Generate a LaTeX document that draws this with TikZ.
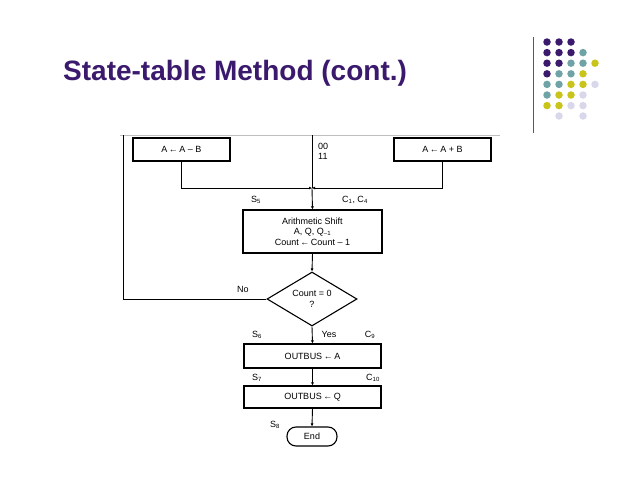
\documentclass[tikz,border=0pt]{standalone}
\usepackage{fontspec}
\setmainfont{Liberation Sans}
\usetikzlibrary{shapes.geometric,arrows.meta}
\definecolor{pp}{HTML}{3B1A6E}
\definecolor{tl}{HTML}{6FA3A6}
\definecolor{yl}{HTML}{C9C41A}
\definecolor{lv}{HTML}{D8D8EA}
\newcommand{\lar}{\,\textbf{←}\,}
\newcommand{\sbs}[1]{\textsubscript{#1}}
\begin{document}
\begin{tikzpicture}[x=1pt,y=-1pt,
  bx/.style={draw,line width=1.1pt,inner sep=0pt,font=\fontsize{9}{10.5}\selectfont,align=center},
  lb/.style={font=\fontsize{9}{10}\selectfont,inner sep=0pt},
  ln/.style={line width=0.9pt},
  ar/.style={ln,-{Latex[length=3pt,width=3pt]}},
  dot/.style={circle,inner sep=0pt,minimum size=7.5pt}]
\useasboundingbox (0,0) rectangle (638,493);
\node[anchor=base west,text=pp,font=\fontsize{28}{30}\selectfont\bfseries,inner sep=0pt] (title) at (63,80) {State-table Method (cont.)};
\draw[line width=0.8pt,gray!70!black] (533,37) -- (533,133);
\foreach \r/\row in {0/{pp,pp,pp},1/{pp,pp,pp,tl},2/{pp,pp,tl,tl,yl},3/{pp,tl,tl,yl},4/{tl,tl,yl,yl,lv},5/{tl,yl,yl,lv},6/{yl,yl,lv,lv}}{
  \foreach \c [count=\i from 0] in \row {
    \node[dot,fill=\c] (d\r\i) at ({547+12*\i},{42+10.6*\r}) {};
  }}
\node[dot,fill=lv] (d71) at (559,116) {};
\node[dot,fill=lv] (d73) at (583,116) {};
% diagram
\draw[line width=0.6pt,gray!50] (120,135) -- (500,135);
\node[bx,minimum width=97pt,minimum height=23pt] (sub) at (181.5,149.5) {A\lar A -- B};
\node[bx,minimum width=97pt,minimum height=23pt] (add) at (442.5,149.5) {A\lar A + B};
\node[lb,align=left,anchor=north west] (cc) at (318,143) {00\\11};
\coordinate (top) at (312,135);
\coordinate (join) at (312,188);
\coordinate (jl) at (306,188);
\coordinate (jr) at (318,188);
\node[bx,minimum width=139pt,minimum height=43pt] (ash) at (312.5,231.5) {Arithmetic Shift\\A, Q, Q\sbs{--1}\\Count\lar Count -- 1};
\node[draw,line width=1.1pt,diamond,aspect=1.67,inner sep=0pt,minimum width=90pt,minimum height=54pt,font=\fontsize{9}{10.5}\selectfont,align=center] (dec) at (312,299) {Count = 0\\?};
\node[bx,minimum width=137pt,minimum height=24pt] (oa) at (312.5,356) {OUTBUS\lar A};
\node[bx,minimum width=137pt,minimum height=22pt] (oq) at (312.5,397) {OUTBUS\lar Q};
\node[bx,rounded corners=9pt,minimum width=50pt,minimum height=19pt] (end) at (312,436.5) {End};
\coordinate (lt) at (123,135);
\coordinate (lb2) at (123,299);
\draw[ln] (top) -- (join);
\draw[ln] (sub.south) |- (jl);
\draw[ar] (jl) -- (join);
\draw[ln] (add.south) |- (jr);
\draw[ar] (jr) -- (join);
\draw[ar] (join) -- (ash.north);
\draw[ar] (ash.south) -- (dec.north);
\draw[ln] (dec.west) -- (lb2) -- (lt);
\draw[ar] (dec.south) -- (oa.north);
\draw[ar] (oa.south) -- (oq.north);
\draw[ar] (oq.south) -- (end.north);
\node[lb] (s5) at (256,200) {S\sbs{5}};
\node[lb] (c1) at (355,200) {C\sbs{1}, C\sbs{4}};
\node[lb] (no) at (243,289) {No};
\node[lb] (s6) at (257,335) {S\sbs{6}};
\node[lb] (yes) at (329,334) {Yes};
\node[lb] (c9) at (370,335) {C\sbs{9}};
\node[lb] (s7) at (257,378) {S\sbs{7}};
\node[lb] (c10) at (373,378) {C\sbs{10}};
\node[lb] (s8) at (275,425) {S\sbs{8}};
\end{tikzpicture}
\end{document}
